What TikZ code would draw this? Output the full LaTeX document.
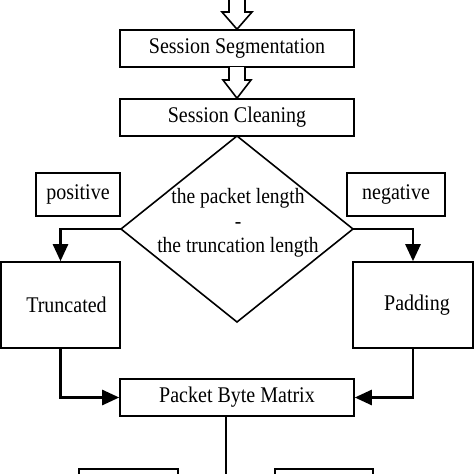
\documentclass[tikz,border=0pt]{standalone}
\usepackage{fontspec}
\setmainfont{Liberation Serif}
\usetikzlibrary{arrows.meta}
\newcommand{\tx}[1]{\scalebox{1}[1.12]{#1}}
\begin{document}
\begin{tikzpicture}[x=1pt,y=-1pt,
  box/.style={draw=black,line width=1.6pt,rectangle,inner sep=0pt,
    font=\fontsize{20}{24.5}\selectfont},
  conn/.style={line width=2.6pt,-{Triangle[length=17pt,width=15pt]}},
  plain/.style={line width=2.6pt},
  hollow/.style={draw=black,line width=1.6pt,line join=miter,fill=white}]
\clip (0,0) rectangle (474,474);
\fill[white] (0,0) rectangle (474,474);
% boxes
\node[box,minimum width=234pt,minimum height=37pt] (seg) at (237,48.5) {\tx{Session Segmentation}};
\node[box,minimum width=234pt,minimum height=37pt] (clean) at (237,117.5) {\tx{Session Cleaning}};
\node[box,minimum width=84pt,minimum height=43pt] (pos) at (78,194.5) {\tx{positive}};
\node[box,minimum width=98pt,minimum height=43pt] (neg) at (396,194.5) {\tx{negative}};
\node[box,minimum width=119pt,minimum height=86pt] (trunc) at (60.5,305) {\hspace*{12pt}\tx{Truncated}};
\node[box,minimum width=120pt,minimum height=86pt] (pad) at (413,305) {\hspace*{8pt}\tx{Padding}};
\node[box,minimum width=234pt,minimum height=37pt] (pbm) at (237,397.5) {\tx{Packet Byte Matrix}};
\node[box,minimum width=99pt,minimum height=40pt] (bl) at (128.5,489) {};
\node[box,minimum width=98pt,minimum height=40pt] (br) at (324,489) {};
% diamond
\coordinate (dT) at (237,136);
\coordinate (dL) at (121,229);
\coordinate (dR) at (353,229);
\coordinate (dB) at (237,322);
\draw[line width=1.6pt,line join=miter] (dT) -- (dR) -- (dB) -- (dL) -- cycle;
\node[align=center,inner sep=0pt,font=\fontsize{19.5}{24.5}\selectfont] (dtext) at (238,223)
  {\tx{the packet length}\\\tx{-}\\\tx{the truncation length}};
% hollow arrows
\draw[hollow] (229,-5) -- (229,12) -- (222,12) -- (seg.north) -- (252,12) -- (245,12) -- (245,-5);
\draw[hollow] (229,67) -- (229,80) -- (223,80) -- (clean.north) -- (251,80) -- (245,80) -- (245,67);
% connectors
\draw[conn] (dL) -| (trunc.north);
\draw[conn] (dR) -| (pad.north);
\draw[conn] (trunc.south) |- (pbm.west);
\draw[conn] (pad.south) |- (pbm.east);
\coordinate (down) at (226,480);
\draw[plain] (pbm.south -| down) -- (down);
\end{tikzpicture}
\end{document}
